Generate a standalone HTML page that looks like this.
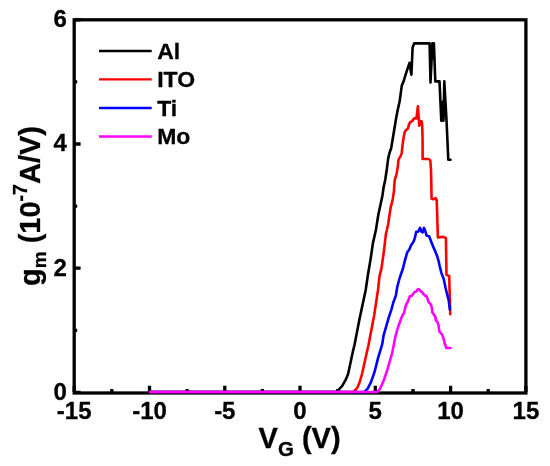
<!DOCTYPE html>
<html><head><meta charset="utf-8">
<style>
html,body{margin:0;padding:0;background:#fff;}
body{width:550px;height:466px;overflow:hidden;}
svg{display:block;}
text{font-family:"Liberation Sans",Arial,sans-serif;font-weight:bold;fill:#000;stroke:#000;stroke-width:0.3px;}
</style></head>
<body>
<svg width="550" height="466" viewBox="0 0 550 466">
<rect width="550" height="466" fill="#fff"/>
<!-- axes frame -->
<rect x="74.2" y="19.8" width="451.7" height="373.2" fill="none" stroke="#000" stroke-width="3.3"/>
<!-- ticks -->
<g stroke="#000" stroke-width="3.3">
<path d="M74.2 392 V385.8 M149.5 392 V385.8 M224.8 392 V385.8 M300 392 V385.8 M375.3 392 V385.8 M450.6 392 V385.8 M525.9 392 V385.8"/>
<path d="M111.8 392 V389 M187.1 392 V389 M262.4 392 V389 M337.7 392 V389 M413 392 V389 M488.2 392 V389"/>
<path d="M74 392.4 H80.6 M74 268.2 H80.6 M74 144 H80.6 M74 19.8 H80.6"/>
<path d="M74 330.3 H77.2 M74 206.1 H77.2 M74 81.9 H77.2"/>
</g>
<!-- curves -->
<g fill="none" stroke-width="2.6" stroke-linejoin="round" stroke-linecap="round">
<path id="al" stroke="#000" d="M150 392 L335.7 392 L338.9 389.5 L342.2 385.8 L345.4 380.4 L348.1 374 L349.7 366.5 L351.3 358.9 L352.9 351.4 L354.5 345 L359.3 320 L365.7 290 L367.9 275 L370.5 259.6 L373 242.9 L375.9 230 L378.5 213.8 L380.5 204.8 L382.4 195.7 L383.7 186.7 L385.2 180 L386.9 168.7 L388.2 158.4 L389.4 153.2 L391.2 148.1 L392.9 137.8 L394.6 127.5 L396.3 117.2 L398 108.6 L399.5 102 L400.5 95.2 L401.7 86.1 L403.5 81.6 L405.8 74.1 L408 67.3 L409.5 62.8 L411.4 74.8 L412.6 47.5 L414.2 43.4 L429.6 43.4 L430.5 82.5 L432.4 43.4 L433 58 L433.9 43.4 L435.3 81.4 L439.5 81.4 L441.3 120.8 L442.5 102 L443.5 120.8 L444.3 81.4 L446.6 122 L448.3 159.7 L450.5 159.7"/>
<path id="ito" stroke="#ff0000" d="M150 392 L353.4 392 L357.2 387.9 L359.9 381.5 L362 374 L364.2 364.3 L366.3 354.7 L368.5 345 L374.1 315.7 L378 290 L379.5 276.4 L381.4 268.6 L383.3 255.7 L384.6 245.5 L385.9 233.9 L386.9 230 L388.2 224 L389.5 215 L390.7 207.3 L392.7 199.6 L394 190.6 L394.7 180.2 L396.6 173.8 L397.9 166 L398.5 159.6 L400.5 156.4 L401.7 153.2 L402.6 144.6 L403.6 137.5 L404.8 131.7 L406.4 129.8 L408 128.5 L408.9 124.6 L410.2 122.1 L412.1 121.1 L413.8 118.9 L415.4 118 L416.5 118.3 L417.9 106.2 L418.9 120 L419.3 125.6 L420.5 121 L421.7 121.5 L422.2 125.8 L422.6 140 L422.6 159 L428.4 159 L430.3 160.3 L431 170 L431.6 198.7 L433.5 199.3 L435.5 198 L436.7 200 L437.9 237.5 L443.3 236.9 L445.9 237.9 L446.5 275 L449.2 275.8 L450.2 314.3"/>
<path id="ti" stroke="#0000ff" d="M150 392 L364.2 392 L367.7 388.6 L371.2 381.6 L374.6 371.8 L378.1 357.9 L382.3 343.9 L383.6 335.4 L386.2 326.4 L388.8 317.3 L391.4 309.6 L393.3 302.5 L395.9 295.5 L397.1 287.7 L399.1 280 L400 277 L402.8 269 L404.7 261.4 L407.2 252.3 L409.2 249.8 L411.1 245.3 L413.7 241.4 L415 237.5 L416.2 231.7 L418.2 231.7 L420.1 227.9 L421.4 231.7 L422.7 232.4 L424 227.9 L425.3 231.1 L426.5 235.6 L429.1 236.2 L430.4 239.5 L432.3 244.6 L434 248.6 L435.7 252.6 L437.2 256.3 L438.6 261 L439.7 266.1 L441.3 272.6 L443.8 279.2 L445.4 287.3 L447 293.8 L448.7 300.4 L449.9 309.5"/>
<path id="mo" stroke="#ff00ff" d="M150 392 L377.2 392 L378.6 390.8 L381.1 386.6 L383.9 380 L387.2 370.4 L390.7 357.9 L392.2 352.9 L395.4 336.6 L397.9 327.6 L400.9 319.3 L402.4 315.4 L403.9 313.5 L404.8 309.5 L406 304.9 L406.9 303.6 L408.2 300.6 L409.9 296.3 L411.6 295.9 L413.3 293.7 L414.6 292 L416.3 291.6 L418 289 L419.3 289.4 L420.6 291.2 L422.3 292.4 L423.6 294.2 L424.9 295.5 L426.6 296.3 L427.5 298.5 L428.3 301.5 L429.6 303.2 L430.9 304.5 L431.8 307.5 L432.4 312.4 L433.9 314.6 L435.2 316.3 L436 320.6 L437.7 322.3 L438.6 325.7 L439.4 331.7 L442 334.3 L443.3 337.8 L444.6 342.9 L446.3 348 L450.5 348"/>
</g>
<!-- y tick labels -->
<g font-size="24" text-anchor="end" transform="translate(0.8 0)">
<text x="66" y="399.7">0</text>
<text x="66" y="275.5">2</text>
<text x="66" y="150.8">4</text>
<text x="66" y="26.6">6</text>
</g>
<!-- x tick labels -->
<g font-size="24" text-anchor="middle">
<text x="74.2" y="419.3">-15</text>
<text x="149.5" y="419.3">-10</text>
<text x="224.8" y="419.3">-5</text>
<text x="300" y="419.3">0</text>
<text x="375.3" y="419.3">5</text>
<text x="450.6" y="419.3">10</text>
<text x="525.9" y="419.3">15</text>
</g>
<!-- axis titles -->
<text x="258.6" y="447.7" font-size="29">V<tspan font-size="20.5" dy="8">G</tspan><tspan dy="-8"> (V)</tspan></text>
<text transform="translate(40 206) rotate(-90)" font-size="29" text-anchor="middle">g<tspan font-size="19" dy="6">m</tspan><tspan dy="-6"> (10</tspan><tspan font-size="19.5" dy="-13.2">-7</tspan><tspan dy="13.2">A/V)</tspan></text>
<!-- legend -->
<g stroke-width="2.4">
<line x1="99" y1="51" x2="151.7" y2="51" stroke="#000"/>
<line x1="99" y1="79.4" x2="151.7" y2="79.4" stroke="#ff0000"/>
<line x1="99" y1="108" x2="151.7" y2="108" stroke="#0000ff"/>
<line x1="99" y1="136.5" x2="151.7" y2="136.5" stroke="#ff00ff"/>
</g>
<g font-size="22">
<text transform="translate(157.2 58.9) scale(1.045 1)">Al</text>
<text transform="translate(157.2 87.3) scale(1.045 1)">ITO</text>
<text transform="translate(157.2 115.7) scale(1.045 1)">Ti</text>
<text transform="translate(157.2 144.2) scale(1.045 1)">Mo</text>
</g>
</svg>
</body></html>
